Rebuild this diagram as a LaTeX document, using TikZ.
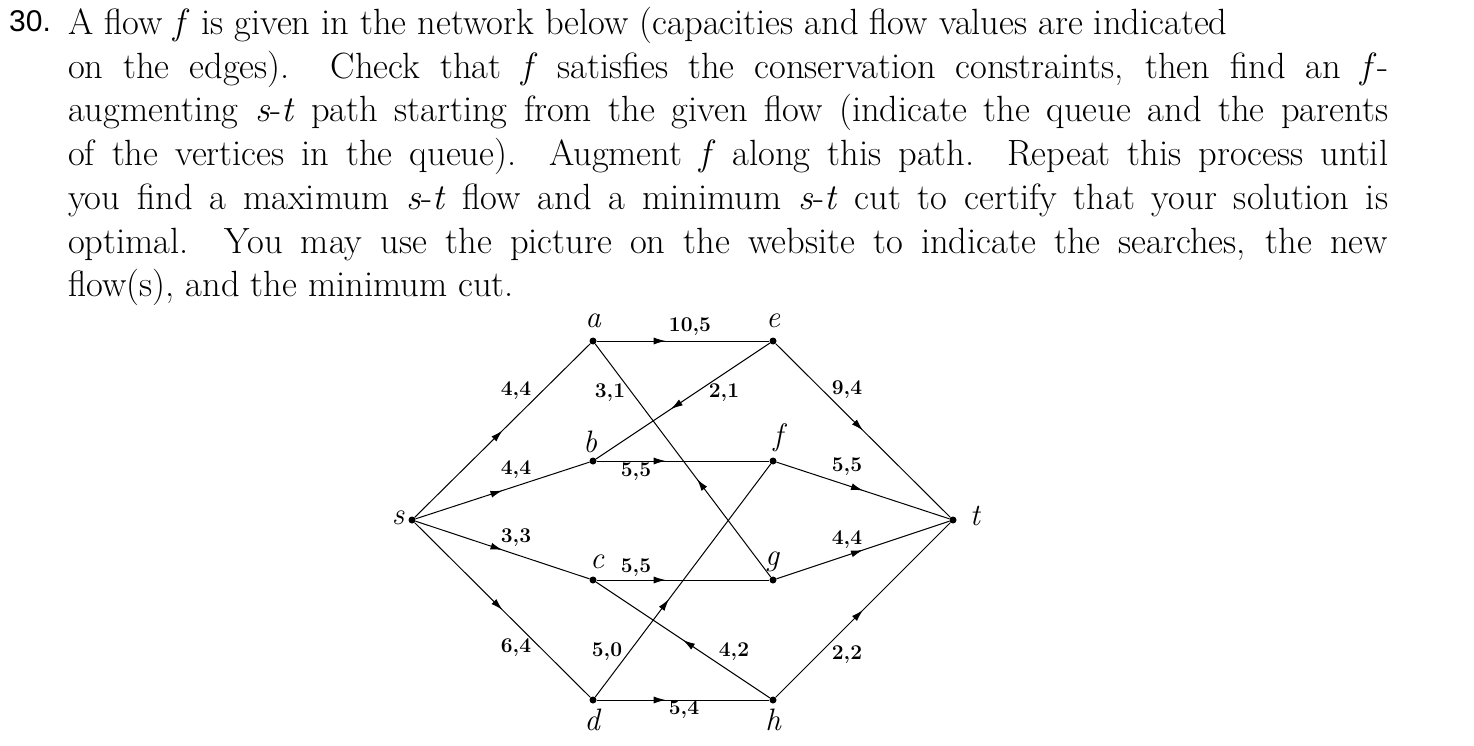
\documentclass[tikz,border=0pt]{standalone}
\usepackage{fontspec}
\newfontfamily\numfont{Liberation Sans}
\newcommand{\vi}[1]{\textit{#1}\/}
\usetikzlibrary{decorations.markings,arrows.meta}
\begin{document}
\begin{tikzpicture}[x=1pt,y=-1pt,
  v/.style={circle,fill,inner sep=0pt,minimum size=7pt},
  vl/.style={font=\fontsize{31}{31}\selectfont\itshape},
  el/.style={font=\fontsize{21}{21}\selectfont\bfseries,inner sep=1pt},
  e/.style={line width=1pt,postaction={decorate},decoration={markings,mark=at position #1 with {\arrow{Latex[length=12pt,width=7pt]}}}},
]
\useasboundingbox (0,0) rectangle (1474,746);
\node[anchor=north west,inner sep=0pt,font=\numfont\fontsize{30}{30}\selectfont] (num) at (9,10) {30.};
\node[anchor=north west,inner sep=0pt,text width=1320pt,align=justify,font=\fontsize{36.5}{43.7}\selectfont] (txt) at (68,7) {A flow \vi{f} is given in the network below (capacities and flow values are indicated\\
on the edges). Check that \vi{f} satisfies the conservation constraints, then find an \vi{f}-\linebreak
augmenting \vi{s}-\vi{t} path starting from the given flow (indicate the queue and the parents\linebreak
of the vertices in the queue). Augment \vi{f} along this path. Repeat this process until\linebreak
you find a maximum \vi{s}-\vi{t} flow and a minimum \vi{s}-\vi{t} cut to certify that your solution is\linebreak
optimal. You may use the picture on the website to indicate the searches, the new\linebreak
flow(s), and the minimum cut.};
\node[v] (s) at (412,520) {};
\node[v] (a) at (593,341) {};
\node[v] (e) at (773,341) {};
\node[v] (b) at (593,461) {};
\node[v] (f) at (773,461) {};
\node[v] (c) at (593,580) {};
\node[v] (g) at (773,580) {};
\node[v] (d) at (593,700) {};
\node[v] (h) at (773,700) {};
\node[v] (t) at (953,520) {};
\node[vl] (ls) at (398,518) {s};
\node[vl] (lt) at (975,516) {t};
\node[vl] (la) at (593,321) {a};
\node[vl] (le) at (773,321) {e};
\node[vl] (lb) at (590,442) {b};
\node[vl] (lf) at (778,438) {f};
\node[vl] (lc) at (597,562) {c};
\node[vl] (lg) at (772,562) {g};
\node[vl] (ld) at (592,720) {d};
\node[vl] (lh) at (773,720) {h};
\draw[e=0.5] (s) -- (a);
\draw[e=0.5] (s) -- (b);
\draw[e=0.5] (s) -- (c);
\draw[e=0.5] (s) -- (d);
\draw[e=0.4] (a) -- (e);
\draw[e=0.4] (b) -- (f);
\draw[e=0.4] (c) -- (g);
\draw[e=0.4] (d) -- (h);
\draw[e=0.42] (g) -- (a);
\draw[e=0.57] (e) -- (b);
\draw[e=0.42] (d) -- (f);
\draw[e=0.5] (h) -- (c);
\draw[e=0.5] (e) -- (t);
\draw[e=0.5] (f) -- (t);
\draw[e=0.5] (g) -- (t);
\draw[e=0.5] (h) -- (t);
\node[el] (l1) at (690,327) {10,5};
\node[el] (l2) at (516,391) {4,4};
\node[el] (l3) at (610,393) {3,1};
\node[el] (l4) at (724,393) {2,1};
\node[el] (l5) at (847,390) {9,4};
\node[el] (l6) at (516,470) {4,4};
\node[el] (l7) at (636,472) {5,5};
\node[el] (l8) at (847,467) {5,5};
\node[el] (l9) at (516,538) {3,3};
\node[el] (l10) at (636,568) {5,5};
\node[el] (l11) at (847,540) {4,4};
\node[el] (l12) at (516,648) {6,4};
\node[el] (l13) at (607,652) {5,0};
\node[el] (l14) at (734,652) {4,2};
\node[el] (l15) at (847,655) {2,2};
\node[el] (l16) at (684,710) {5,4};
\end{tikzpicture}
\end{document}
